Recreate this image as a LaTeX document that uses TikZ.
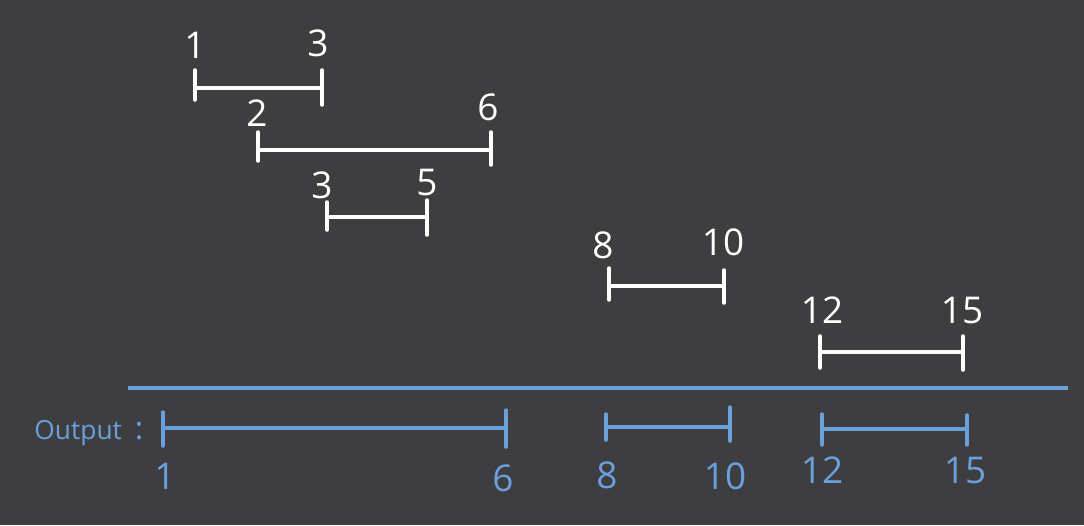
\documentclass[tikz,border=0pt]{standalone}
\usepackage{fontspec}
\setmainfont{Open Sans}
\definecolor{bgc}{HTML}{3E3D3F}
\definecolor{blu}{HTML}{6CA0DC}
\begin{document}
\begin{tikzpicture}[x=0.02cm,y=-0.02cm,
  seg/.style={line width=2pt,line cap=round},
  wseg/.style={seg,draw=white},
  bseg/.style={seg,draw=blu},
  wlab/.style={text=white,font=\fontsize{21}{24}\selectfont,inner sep=0pt},
  blab/.style={text=blu,font=\fontsize{21}{24}\selectfont,inner sep=0pt}]
\fill[bgc] (0,0) rectangle (1084,525);
\useasboundingbox (0,0) rectangle (1084,525);
% white intervals
\draw[wseg] (195,70) -- (195,100) (195,88) -- (322,88) (322,70) -- (322,105);
\node[wlab] (a1) at (195,45) {1};
\node[wlab] (a3) at (318,43) {3};
\draw[wseg] (258,132) -- (258,161) (258,150) -- (491,150) (491,132) -- (491,165);
\node[wlab] (b2) at (257,113) {2};
\node[wlab] (b6) at (488,107) {6};
\draw[wseg] (327,202) -- (327,230) (327,217) -- (427,217) (427,200) -- (427,235);
\node[wlab] (c3) at (322,185) {3};
\node[wlab] (c5) at (427,183) {5};
\draw[wseg] (609,268) -- (609,300) (609,286) -- (724,286) (724,270) -- (724,303);
\node[wlab] (d8) at (603,245) {8};
\node[wlab] (d10) at (723,242) {10};
\draw[wseg] (820,336) -- (820,368) (820,352) -- (963,352) (963,336) -- (963,370);
\node[wlab] (e12) at (822,310) {12};
\node[wlab] (e15) at (962,310) {15};
% blue separator
\draw[bseg,line width=1.8pt,line cap=butt] (128,388) -- (1068,388);
\node[blab,anchor=west,font=\fontsize{15}{18}\selectfont] (out) at (34,433) {Output};
\node[blab,font=\fontsize{18}{21}\selectfont] (colon) at (139,431) {:};
\draw[bseg] (163,412) -- (163,446) (163,428) -- (506,428) (506,410) -- (506,447);
\node[blab] (o1) at (165,476) {1};
\node[blab] (o6) at (503,478) {6};
\draw[bseg] (606,414) -- (606,440) (606,427) -- (730,427) (730,407) -- (730,441);
\node[blab] (o8) at (607,475) {8};
\node[blab] (o10) at (725,476) {10};
\draw[bseg] (822,414) -- (822,445) (822,429) -- (967,429) (967,415) -- (967,445);
\node[blab] (o12) at (822,470) {12};
\node[blab] (o15) at (965,470) {15};
\end{tikzpicture}
\end{document}
